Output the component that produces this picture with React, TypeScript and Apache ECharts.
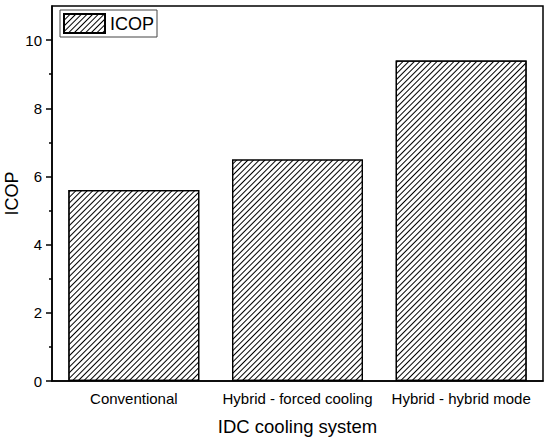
import React, { useEffect, useRef } from "react";
import * as echarts from "echarts";

const categories = ["Conventional", "Hybrid - forced cooling", "Hybrid - hybrid mode"];
const icopValues = [5.6, 6.5, 9.4];
const yMajorTicks = [0, 2, 4, 6, 8, 10];
const yMinorTicks = [1, 3, 5, 7, 9];
const seriesName = "ICOP";

const FONT = "'Liberation Sans', Arial, sans-serif";

export default function App() {
  const ref = useRef<HTMLDivElement>(null);
  useEffect(() => {
    document.body.style.margin = "0";
    const chart = echarts.init(ref.current!, null, { renderer: "svg" });
    const decal = {
      symbol: "rect",
      symbolSize: 1,
      dashArrayX: [1, 0],
      dashArrayY: [1, 2.2],
      rotation: -Math.PI / 4,
      color: "#000",
      backgroundColor: "#fff",
    };
    chart.setOption({
      animation: false,
      backgroundColor: "#fff",
      textStyle: { fontFamily: FONT },
      grid: {
        left: 52,
        right: 7,
        top: 6,
        bottom: 60,
        outerBoundsMode: "none",
        containLabel: false,
        show: true,
        borderColor: "#000",
        borderWidth: 1.5,
        backgroundColor: "transparent",
      },
      legend: {
        left: 60,
        top: 10,
        padding: 3,
        itemWidth: 41,
        itemHeight: 19,
        itemGap: 5,
        borderColor: "#444",
        borderWidth: 1,
        icon: "rect",
        textStyle: { fontSize: 18, color: "#000", fontFamily: FONT, padding: [0, 0, 0, 0] },
        data: [seriesName],
      },
      xAxis: [
        {
          type: "category",
          data: categories,
          name: "IDC cooling system",
          nameLocation: "middle",
          nameGap: 36,
          nameMoveOverlap: false,
          nameTextStyle: { fontSize: 18.5, color: "#000", fontFamily: FONT },
          axisLine: { lineStyle: { color: "#000", width: 1.5 } },
          axisTick: { alignWithLabel: true, length: 6, lineStyle: { color: "#000", width: 1.5 } },
          axisLabel: { fontSize: 15, color: "#000", margin: 10, fontFamily: FONT, interval: 0 },
          splitLine: { show: false },
        },
        {
          type: "category",
          data: categories,
          position: "bottom",
          axisLine: { show: false },
          axisTick: { alignWithLabel: false, length: 3, lineStyle: { color: "#000", width: 1.5 } },
          axisLabel: { show: false },
          splitLine: { show: false },
        },
      ],
      yAxis: [
        {
          type: "value",
          min: 0,
          max: 11,
          interval: 1,
          name: "ICOP",
          nameLocation: "middle",
          nameGap: 31,
          nameMoveOverlap: false,
          nameRotate: 90,
          nameTextStyle: { fontSize: 18, color: "#000", fontFamily: FONT },
          axisLine: { show: true, lineStyle: { color: "#000", width: 1.5 } },
          axisTick: { show: true, length: 6, customValues: yMajorTicks, lineStyle: { color: "#000", width: 1.5 } },
          axisLabel: { fontSize: 15, color: "#000", margin: 10, fontFamily: FONT, customValues: yMajorTicks },
          splitLine: { show: false },
        },
        {
          type: "value",
          min: 0,
          max: 11,
          interval: 1,
          position: "left",
          axisLine: { show: false },
          axisTick: { show: true, length: 3, customValues: yMinorTicks, lineStyle: { color: "#000", width: 1.5 } },
          axisLabel: { show: false },
          splitLine: { show: false },
        },
      ],
      series: [
        {
          name: seriesName,
          type: "bar",
          data: icopValues,
          xAxisIndex: 0,
          yAxisIndex: 0,
          barCategoryGap: "20%",
          itemStyle: {
            color: "#fff",
            borderColor: "#000",
            borderWidth: 1.2,
            decal,
          },
        },
      ],
    });
    return () => chart.dispose();
  }, []);
  return <div ref={ref} style={{ width: 550, height: 441 }} />;
}
